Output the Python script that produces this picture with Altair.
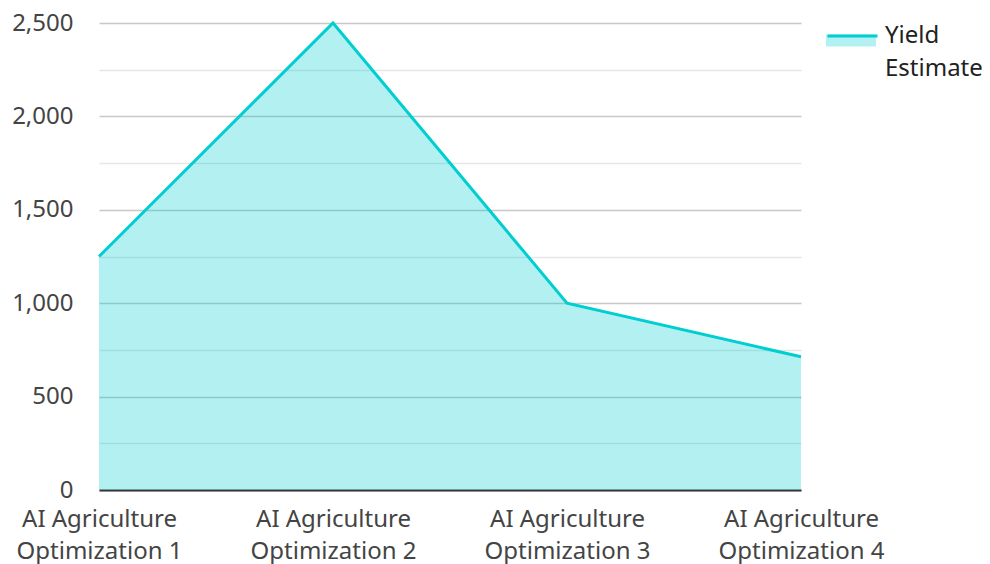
import altair as alt
import pandas as pd

categories = [
    "AI Agriculture Optimization 1",
    "AI Agriculture Optimization 2",
    "AI Agriculture Optimization 3",
    "AI Agriculture Optimization 4",
]
values = [1250, 2500, 1000, 713]
series_name = "Yield Estimate"
y_ticks = [0, 250, 500, 750, 1000, 1250, 1500, 1750, 2000, 2250, 2500]

LINE = "#00CED1"
FONT = "Noto Sans"
FS = 24

df = pd.DataFrame({
    "category": categories,
    "value": values,
    "fill_series": [series_name] * len(categories),
    "stroke_series": [series_name] * len(categories),
})

x_enc = alt.X(
    "category:N",
    sort=categories,
    scale=alt.Scale(type="point", padding=0),
    axis=alt.Axis(
        title=None,
        labelExpr="split(replace(datum.label, ' Optimization', '|Optimization'), '|')",
        labelFontSize=FS,
        labelColor="#444444",
        labelLineHeight=32,
        labelPadding=17,
        labelAngle=0,
        ticks=False,
        tickSize=0,
        grid=False,
        domainColor="#333333",
        domainWidth=2,
    ),
)

y_enc = alt.Y(
    "value:Q",
    scale=alt.Scale(domain=[0, 2500], nice=False),
    axis=alt.Axis(
        title=None,
        values=y_ticks,
        labelExpr="datum.value % 500 === 0 ? format(datum.value, ',') : ''",
        labelFontSize=FS,
        labelColor="#444444",
        labelPadding=26,
        ticks=False,
        tickSize=0,
        domain=False,
        grid=True,
        gridColor={"condition": {"test": "datum.value % 500 === 0", "value": "#c8c8c8"}, "value": "#e6e6e6"},
        gridWidth=1.5,
    ),
)

area = alt.Chart(df).mark_area(opacity=0.3, strokeWidth=0).encode(
    x=x_enc,
    y=y_enc,
    fill=alt.Fill(
        "fill_series:N",
        scale=alt.Scale(domain=[series_name], range=[LINE]),
        legend=alt.Legend(
            orient="none",
            legendX=727,
            legendY=14,
            title=["Yield", "Estimate"],
            titleOrient="right",
            titleFontSize=FS,
            titleFontWeight="normal",
            titleColor="#222222",
            titleLineHeight=33,
            titleFont=FONT,
            titlePadding=5,
            labelExpr="''",
            symbolType="M-1,-1.1H1V-0.62H-1Z",
            symbolSize=2500,
            symbolOpacity=0.3,
            symbolStrokeWidth=0,
        ),
    ),
)

line = alt.Chart(df).mark_line(strokeWidth=3).encode(
    x=x_enc,
    y=y_enc,
    stroke=alt.Stroke(
        "stroke_series:N",
        scale=alt.Scale(domain=[series_name], range=[LINE]),
        legend=alt.Legend(
            orient="none",
            legendX=727,
            legendY=14,
            title=None,
            labelExpr="''",
            symbolType="M-1,-1.1H1",
            symbolSize=2500,
            symbolStrokeWidth=3,
        ),
    ),
)

chart = alt.layer(area, line).properties(
    width=702,
    height=467,
    autosize=alt.AutoSizeParams(type="none"),
    padding={"left": 91, "top": 15, "right": 181, "bottom": 74},
).configure(
    font=FONT,
).configure_view(
    stroke=None,
).resolve_scale(fill="independent", stroke="independent")

chart.save("out.html", embed_options={"renderer": "svg", "actions": False})
